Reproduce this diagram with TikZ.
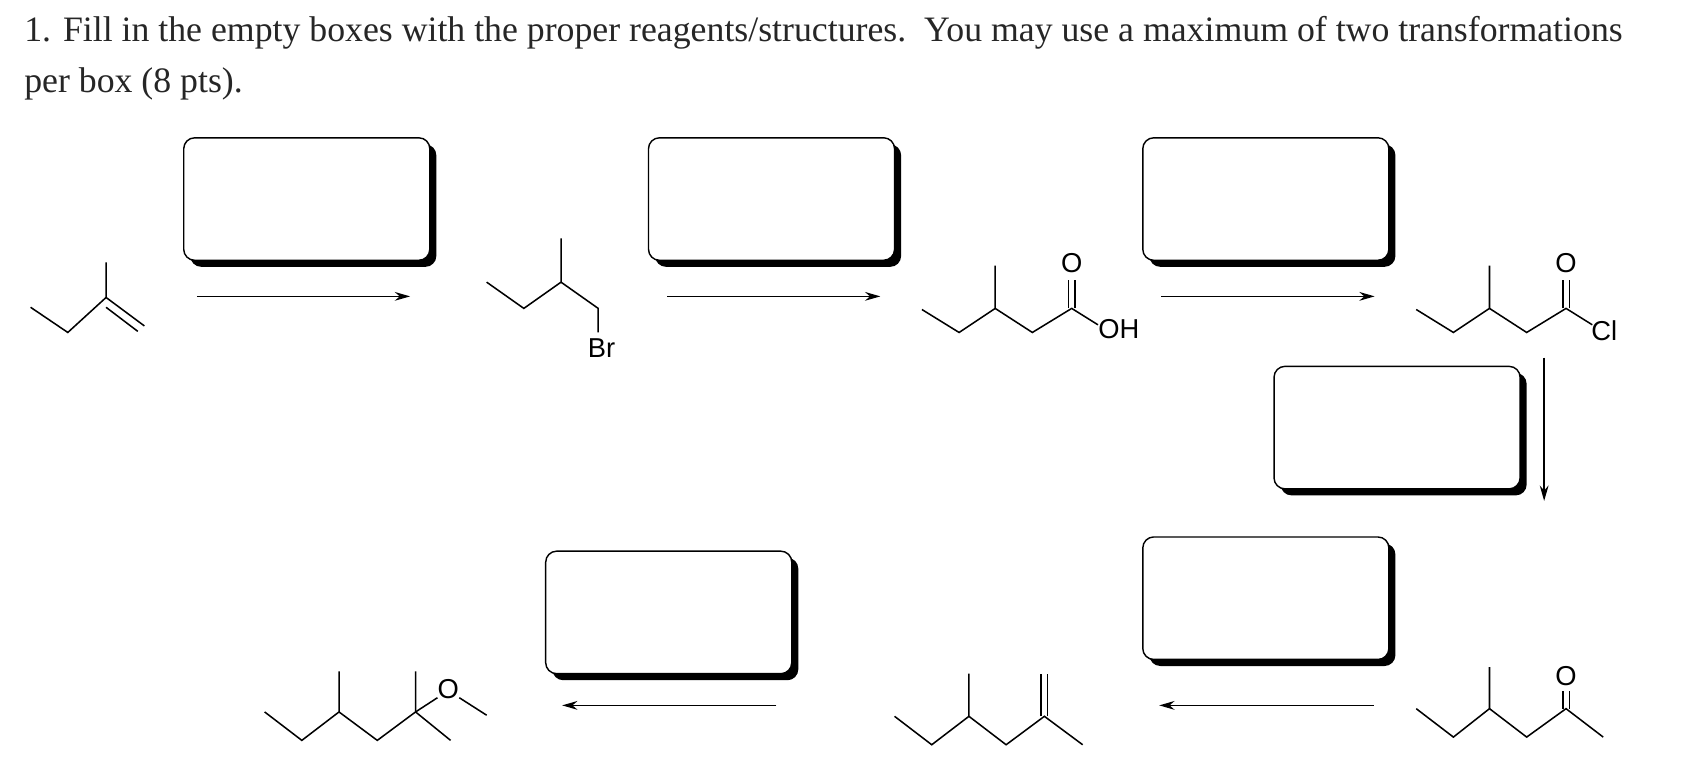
\documentclass[tikz,border=0pt]{standalone}
\usepackage{fontspec}
\setmainfont{Liberation Serif}
\newfontfamily\atomfont{Liberation Sans}
\usetikzlibrary{arrows.meta}
\begin{document}
\begin{tikzpicture}[x=1pt,y=-1pt,
  bond/.style={line width=1.4pt,line join=miter},
  rxn/.style={line width=1.4pt,-{Stealth[length=14pt,width=8pt]}},
  atom/.style={font=\atomfont\fontsize{25}{25}\selectfont,inner sep=1pt},
  title/.style={font=\fontsize{32.7}{38}\selectfont,anchor=base west,inner sep=0pt,text=black!85}]
\useasboundingbox (0,0) rectangle (1560,702);
\fill[white] (0,0) rectangle (1560,702);
\node[title] (t1) at (22,38) {1. Fill in the empty boxes with the proper reagents/structures.\ \ You may use a maximum of two transformations};
\node[title] (t2) at (22,85) {per box (8 pts).};
% boxes
\newcommand{\ansbox}[3]{%
  \fill[rounded corners=10pt] (#1+6,#2+6) rectangle (#1+231,#2+118);
  \draw[line width=1.3pt,fill=white,rounded corners=10pt] (#1,#2) rectangle (#1+225,#2+112);
  \coordinate (#3) at (#1+112,#2+56);}
\ansbox{168}{126}{b1}
\ansbox{593}{126}{b2}
\ansbox{1045}{126}{b3}
\ansbox{1165}{335}{b4}
\ansbox{499}{504}{b5}
\ansbox{1045}{491}{b6}
% arrows
\coordinate (a1s) at (180,271); \coordinate (a1e) at (375,271);
\coordinate (a2s) at (610,271); \coordinate (a2e) at (805,271);
\coordinate (a3s) at (1062,271); \coordinate (a3e) at (1257,271);
\coordinate (a4s) at (1412,327); \coordinate (a4e) at (1412,458);
\coordinate (a5s) at (710,645); \coordinate (a5e) at (514,645);
\coordinate (a6s) at (1256,645); \coordinate (a6e) at (1060,645);
\draw[rxn] (a1s) -- (a1e);
\draw[rxn] (a2s) -- (a2e);
\draw[rxn] (a3s) -- (a3e);
\draw[rxn] (a4s) -- (a4e);
\draw[rxn] (a5s) -- (a5e);
\draw[rxn] (a6s) -- (a6e);
% molecule 1: 2-methyl-1-butene
\draw[bond] (28,281) -- (62,304) -- (97,272) -- (97,240);
\draw[bond] (97,272) -- (132,298);
\draw[bond] (97,281) -- (126,303);
% molecule 2: bromide
\draw[bond] (445,258) -- (479,282) -- (513,258) -- (513,218);
\draw[bond] (513,258) -- (547,282) -- (547,304);
\node[atom] (br) at (550,318) {Br};
% molecule 3: acid
\draw[bond] (843,283) -- (877,304) -- (910,282) -- (910,243);
\draw[bond] (910,282) -- (944,304) -- (980,282) -- (1004,297);
\draw[bond] (977,282) -- (977,256);
\draw[bond] (983,282) -- (983,256);
\node[atom] (o1) at (980,241) {O};
\node[atom] (oh) at (1023,301) {OH};
% molecule 4: acyl chloride
\draw[bond] (1295,283) -- (1329,304) -- (1362,282) -- (1362,243);
\draw[bond] (1362,282) -- (1396,304) -- (1432,282) -- (1456,297);
\draw[bond] (1429,282) -- (1429,256);
\draw[bond] (1435,282) -- (1435,256);
\node[atom] (o2) at (1432,241) {O};
\node[atom] (cl) at (1467,302) {Cl};
% molecule 5: ketone
\draw[bond] (1295,648) -- (1329,674) -- (1362,648) -- (1362,610);
\draw[bond] (1362,648) -- (1396,674) -- (1432,648) -- (1466,674);
\draw[bond] (1429,648) -- (1429,632);
\draw[bond] (1435,648) -- (1435,632);
\node[atom] (o3) at (1432,618) {O};
% molecule 6: alkene
\draw[bond] (818,655) -- (852,681) -- (886,655) -- (886,616);
\draw[bond] (886,655) -- (920,681) -- (955,655) -- (990,681);
\draw[bond] (952,655) -- (952,616);
\draw[bond] (958,655) -- (958,616);
% molecule 7: ether
\draw[bond] (242,651) -- (276,677) -- (310,651) -- (310,614);
\draw[bond] (310,651) -- (345,677) -- (380,651) -- (380,614);
\draw[bond] (380,651) -- (412,677);
\draw[bond] (380,651) -- (400,638);
\node[atom] (o4) at (410,630) {O};
\draw[bond] (420,638) -- (445,654);
\end{tikzpicture}
\end{document}
